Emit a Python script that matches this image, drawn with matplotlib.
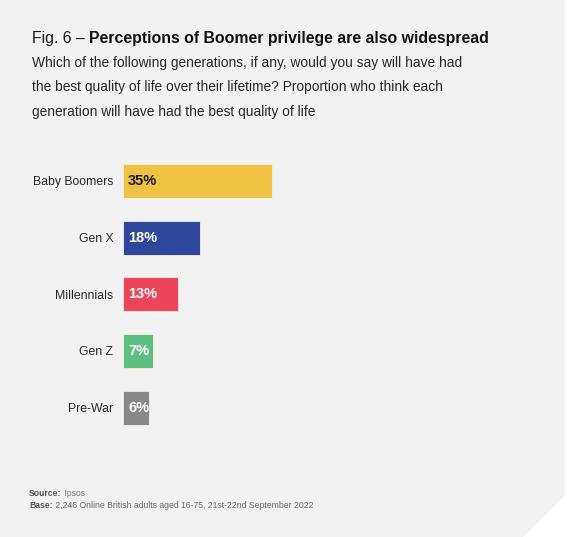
import matplotlib.pyplot as plt
from matplotlib.patches import Polygon

# 数据
generations = ['Baby Boomers', 'Gen X', 'Millennials', 'Gen Z', 'Pre-War']
shares = [35, 18, 13, 7, 6]
bar_colors = ['#f0c244', '#2f479c', '#ea4559', '#5ebf82', '#888888']
value_colors = ['#1a1a1a', 'white', 'white', 'white', 'white']

W, H = 567, 537
bg = '#f2f2f2'

plt.rcParams['font.family'] = ['Liberation Sans', 'DejaVu Sans']

fig = plt.figure(figsize=(W / 100, H / 100), dpi=100)
fig.patch.set_facecolor('white')

# 背景及右下角的白色切角
bg_ax = fig.add_axes([0, 0, 1, 1])
bg_ax.set_xlim(0, W)
bg_ax.set_ylim(H, 0)
bg_ax.axis('off')
bg_ax.add_patch(Polygon([(0, 0), (565, 0), (565, 495), (523, H), (0, H)],
                        closed=True, facecolor=bg, edgecolor='none'))


def two_part(x, y, a, b, size, ca, cb, wa='normal', wb='bold'):
    # 先画第一段，再接着画第二段
    t = bg_ax.text(x, y, a, fontsize=size, va='center', ha='left',
                   fontweight=wa, color=ca)
    fig.canvas.draw()
    x1 = t.get_window_extent().x1
    bg_ax.annotate(b, xy=(x1, H - y), xycoords='figure pixels', fontsize=size,
                   va='center', ha='left', fontweight=wb, color=cb)


# 标题
two_part(32, 38, 'Fig. 6 – ', 'Perceptions of Boomer privilege are also widespread',
         11.4, '#1a1a1a', '#111111')

subtitle = ['Which of the following generations, if any, would you say will have had',
            'the best quality of life over their lifetime? Proportion who think each',
            'generation will have had the best quality of life']
for i, line in enumerate(subtitle):
    bg_ax.text(32, 63 + i * 24.5, line, fontsize=9.9, va='center', ha='left',
               color='#262626')

# 条形图
ax = fig.add_axes([123 / W, 1 - 436 / H, 170 / W, 283.5 / H])
ax.set_facecolor('none')
pos = list(range(len(generations)))
ax.barh(pos, shares, height=0.6, color=bar_colors, edgecolor='#f7f0e0',
        linewidth=0.6)
ax.set_xlim(0, 40)
ax.set_ylim(len(generations) - 0.5, -0.5)
ax.set_yticks(pos)
ax.set_yticklabels(generations, fontsize=8.8, color='#262626')
ax.tick_params(axis='y', length=0, pad=7)
ax.set_xticks([])
for s in ax.spines.values():
    s.set_visible(False)
for p, v, c in zip(pos, shares, value_colors):
    ax.text(1.2, p, f'{v}%', va='center', ha='left', fontsize=10.5,
            fontweight='bold', color=c)

# 脚注
two_part(29, 493, 'Source:', ' Ipsos', 6.2, '#555555', '#777777', 'bold', 'normal')
two_part(29, 505, 'Base:',
         ' 2,246 Online British adults aged 16-75, 21st-22nd September 2022',
         6.2, '#555555', '#666666', 'bold', 'normal')

fig.savefig('out.png', dpi=100, facecolor=fig.get_facecolor())
